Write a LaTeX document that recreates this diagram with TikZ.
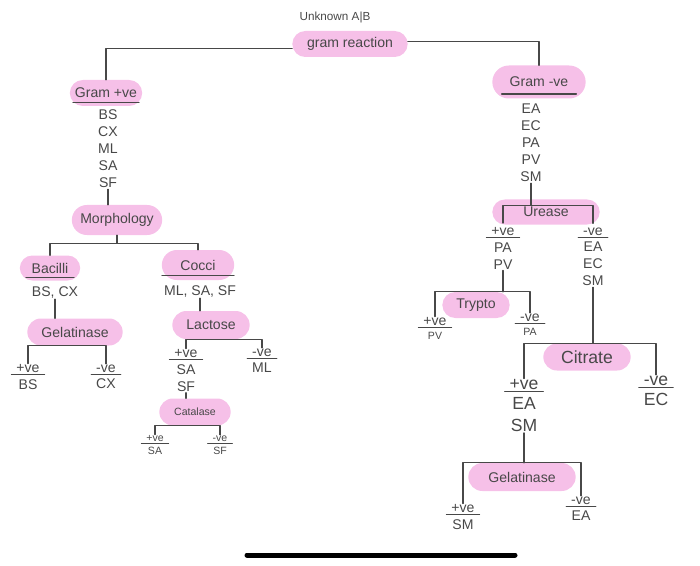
\documentclass[tikz,border=0pt]{standalone}
\usepackage{fontspec}
\setmainfont{Liberation Sans}
\usetikzlibrary{shapes.misc,positioning}

\definecolor{pinkfill}{RGB}{246,192,232}
\definecolor{ink}{RGB}{72,72,72}

\tikzset{
  pill/.style 2 args={rounded rectangle, fill=pinkfill, text=ink, minimum width=#1, minimum height=#2, inner sep=2pt, font=\fontsize{12}{14}\selectfont},
  txt/.style={text=ink, inner sep=1pt, font=\fontsize{12}{14.5}\selectfont, align=center},
  small/.style={font=\fontsize{9}{11}\selectfont},
  big/.style={font=\fontsize{15}{18.5}\selectfont},
  branch/.style={draw=ink, line width=1.2pt, line cap=round, line join=round},
  rule/.style={draw=ink, line width=1.1pt, line cap=round},
}

\begin{document}
\begin{tikzpicture}[x=0.03cm, y=-0.03cm]
    \useasboundingbox (0,0) rectangle (700,566);
    % Root
    \node[txt, font=\fontsize{10}{12}\selectfont] (unk) at (335,17) {Unknown A|B};
    \node[pill={3.6cm}{0.78cm}] (gram) at (350,44) {gram reaction};

    % Gram positive side
    \node[pill={2.31cm}{0.78cm}] (gpos) at (106,93) {Gram +ve};
    \node[txt] (plist) at (108,149) {BS\\CX\\ML\\SA\\SF};
    \node[pill={2.85cm}{0.9cm}] (morph) at (117,220) {Morphology};
    \node[pill={1.95cm}{0.75cm}] (bac) at (50,268) {Bacilli};
    \node[txt] (bacl) at (55,292) {BS, CX};
    \node[pill={3cm}{0.81cm}] (gelL) at (75,332) {Gelatinase};
    \node[txt] (glp) at (28,369) {+ve};
    \node[txt, below=3pt of glp] (glps) {BS};
    \node[txt] (gln) at (106,369) {-ve};
    \node[txt, below=3pt of gln] (glns) {CX};
    \node[pill={2.31cm}{0.9cm}] (cocci) at (198,265) {Cocci};
    \node[txt] (coccl) at (200,291) {ML, SA, SF};
    \node[pill={2.46cm}{0.84cm}] (lact) at (211,325) {Lactose};
    \node[txt] (lp) at (186,354) {+ve};
    \node[txt, below=3pt of lp] (lps) {SA\\SF};
    \node[txt] (ln) at (262,353) {-ve};
    \node[txt, below=3pt of ln] (lns) {ML};
    \node[pill={2.28cm}{0.81cm}, small] (cat) at (195,412) {Catalase};
    \node[txt, small] (cp) at (155,439) {+ve};
    \node[txt, small, below=2pt of cp] (cps) {SA};
    \node[txt, small] (cn) at (220,439) {-ve};
    \node[txt, small, below=2pt of cn] (cns) {SF};

    % Gram negative side
    \node[pill={2.94cm}{0.99cm}] (gneg) at (539,82) {Gram -ve};
    \node[txt] (nlist) at (531,143) {EA\\EC\\PA\\PV\\SM};
    \node[pill={3.36cm}{0.75cm}] (ure) at (546,212) {Urease};
    \node[txt] (up) at (503,232) {+ve};
    \node[txt, below=3pt of up] (ups) {PA\\PV};
    \node[txt] (un) at (593,232) {-ve};
    \node[txt, below=3pt of un] (uns) {EA\\EC\\SM};
    \node[pill={2.16cm}{0.78cm}] (tryp) at (476,305) {Trypto};
    \node[txt] (tp) at (435,322) {+ve};
    \node[txt, small, below=3pt of tp] (tps) {PV};
    \node[txt] (tn) at (530,318) {-ve};
    \node[txt, small, below=3pt of tn] (tns) {PA};
    \node[pill={2.76cm}{0.81cm}, big] (cit) at (587,357) {Citrate};
    \node[txt, big] (citp) at (524,385) {+ve};
    \node[txt, big, below=4pt of citp] (citps) {EA\\SM};
    \node[txt, big] (citn) at (656,381) {-ve};
    \node[txt, big, below=4pt of citn] (citns) {EC};
    \node[pill={3.36cm}{0.84cm}] (gelR) at (522,477) {Gelatinase};
    \node[txt] (grp) at (463,509) {+ve};
    \node[txt, below=3pt of grp] (grps) {SM};
    \node[txt] (grn) at (581,501) {-ve};
    \node[txt, below=3pt of grn] (grns) {EA};

    % Underlines
    \draw[rule] ([xshift=-0.99cm,yshift=3pt]gpos.south) -- ([xshift=0.99cm,yshift=3pt]gpos.south);
    \draw[rule] ([xshift=-1.12cm,yshift=4pt]gneg.south) -- ([xshift=1.12cm,yshift=4pt]gneg.south);
    \draw[rule] ([xshift=-0.72cm,yshift=3pt]bac.south) -- ([xshift=0.72cm,yshift=3pt]bac.south);
    \draw[rule] ([xshift=-1.08cm,yshift=4pt]cocci.south) -- ([xshift=1.08cm,yshift=4pt]cocci.south);
    \foreach \n in {glp,gln,lp,ln,cp,cn,up,un,tp,tn,citp,citn,grp,grn}
        \draw[rule] ([xshift=-3pt]\n.south west) -- ([xshift=3pt]\n.south east);

    % Connectors, left
    \draw[branch] ([yshift=-4pt]gram.west) -| (gpos.north);
    \draw[branch] (plist.south) -- (plist.south |- morph.north);
    \draw[branch] (morph.south) -- ++(0,8) coordinate (mj);
    \draw[branch] (bac.north) |- (mj) -| (cocci.north);
    \draw[branch] (bacl.south) -- (bacl.south |- gelL.north);
    \draw[branch] (glp.north) |- (gelL.south) -| (gln.north);
    \draw[branch] (coccl.south) -- (coccl.south |- lact.north);
    \draw[branch] (lp.north) |- (lact.south) -| (ln.north);
    \draw[branch] (lps.south) -- (lps.south |- cat.north);
    \draw[branch] (cp.north) |- (cat.south) -| (cn.north);

    % Connectors, right
    \draw[branch] ([yshift=2pt]gram.east) -| (gneg.north);
    \draw[branch] (nlist.south) -- (nlist.south |- ure.north) -- ++(0,6) coordinate (uj);
    \draw[branch] ([yshift=3pt]up.north) |- (uj) -| ([yshift=3pt]un.north);
    \coordinate (tj) at (ups.south |- tryp.north);
    \draw[branch] (ups.south) -- (tj);
    \draw[branch] (tp.north) |- (tj) -| (tn.north);
    \coordinate (cj) at (uns.south |- cit.north);
    \draw[branch] (uns.south) -- (cj);
    \draw[branch] (citp.north) |- (cj) -| (citn.north);
    \coordinate (rj) at (citps.south |- gelR.north);
    \draw[branch] (citps.south) -- (rj);
    \draw[branch] (grp.north) |- (rj) -| (grn.north);

    % Bar
    \draw[line width=0.15cm, line cap=round] (247,555) -- (515,555);
\end{tikzpicture}
\end{document}
